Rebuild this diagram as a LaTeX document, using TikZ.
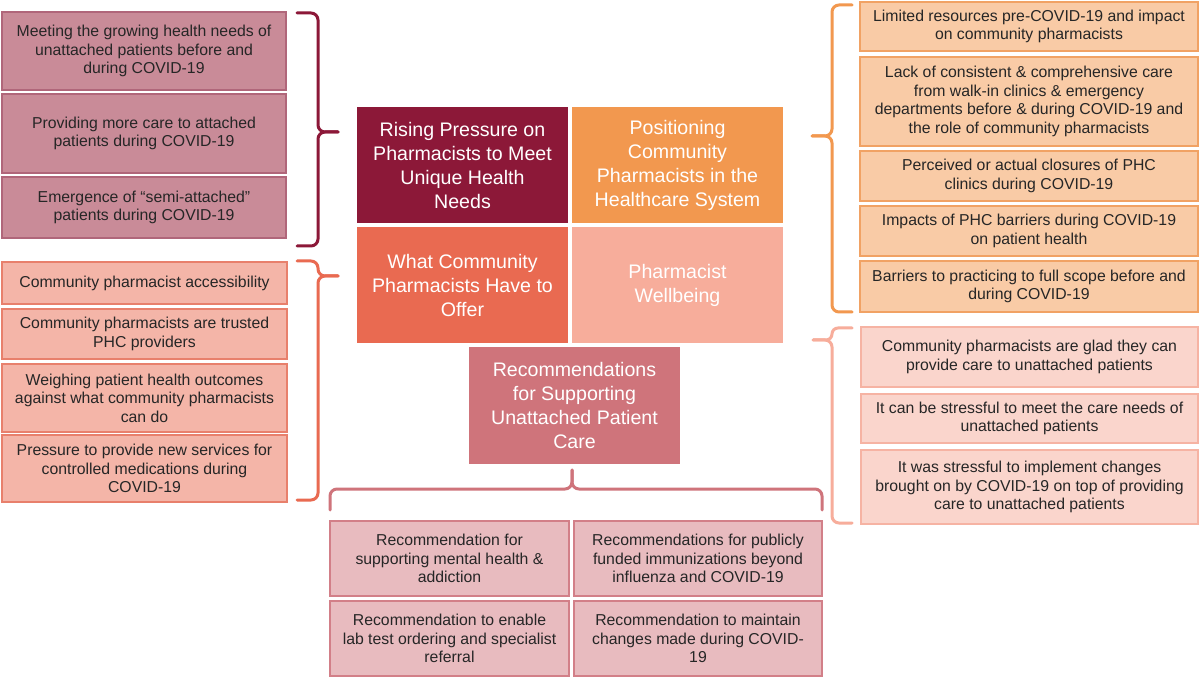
\documentclass[tikz,border=0pt]{standalone}
\usepackage{fontspec}
\setmainfont{Liberation Sans}
\definecolor{wine}{HTML}{8C1838}
\definecolor{orng}{HTML}{F2984F}
\definecolor{coral}{HTML}{E96A51}
\definecolor{salmon}{HTML}{F7AD9B}
\definecolor{rose}{HTML}{CF747B}
\definecolor{tlfill}{HTML}{C98B98}
\definecolor{tldraw}{HTML}{B0667A}
\definecolor{lbfill}{HTML}{F4B5A8}
\definecolor{lbdraw}{HTML}{E8806C}
\definecolor{bfill}{HTML}{E8BBBF}
\definecolor{bdraw}{HTML}{D27F88}
\definecolor{rtfill}{HTML}{F9CBA6}
\definecolor{rtdraw}{HTML}{F1A264}
\definecolor{rbfill}{HTML}{FAD5CC}
\definecolor{rbdraw}{HTML}{F6B3A3}
\definecolor{txt}{HTML}{262626}
\tikzset{
  sidebox/.style={draw, line width=0.6pt, inner sep=0pt, outer sep=0pt, align=center,
    text=txt, font=\fontsize{7.9}{9.3}\selectfont},
  tlbox/.style={sidebox, fill=tlfill, draw=tldraw, minimum width=142pt},
  lbbox/.style={sidebox, fill=lbfill, draw=lbdraw, minimum width=142.5pt},
  botbox/.style={sidebox, fill=bfill, draw=bdraw, minimum height=37.5pt},
  rtbox/.style={sidebox, fill=rtfill, draw=rtdraw, minimum width=169pt},
  rbbox/.style={sidebox, fill=rbfill, draw=rbdraw, minimum width=168.5pt},
  quad/.style={inner sep=0pt, outer sep=0pt, align=center, text=white,
    minimum width=105.5pt, minimum height=58pt, font=\fontsize{9.8}{12}\selectfont},
  brace/.style={line width=1.5pt, rounded corners=3.5pt, line cap=round},
}
\begin{document}
\begin{tikzpicture}[x=0.5pt,y=-0.5pt]
\useasboundingbox (0,0) rectangle (1200,679);
\fill[white] (0,0) rectangle (1200,679);

% top-left group
\node[tlbox, minimum height=39pt] (tl1) at (144,51) {Meeting the growing health needs of\\unattached patients before and\\during COVID-19};
\node[tlbox, minimum height=39.5pt] (tl2) at (144,133.5) {Providing more care to attached\\patients during COVID-19};
\node[tlbox, minimum height=30.5pt] (tl3) at (144,207.5) {Emergence of “semi-attached”\\patients during COVID-19};

% left-bottom group
\node[lbbox, minimum height=21pt] (lb1) at (144.5,283) {Community pharmacist accessibility};
\node[lbbox, minimum height=25pt] (lb2) at (144.5,334) {Community pharmacists are trusted\\PHC providers};
\node[lbbox, minimum height=34pt] (lb3) at (144.5,398) {Weighing patient health outcomes\\against what community pharmacists\\can do};
\node[lbbox, minimum height=33.5pt] (lb4) at (144.5,468.5) {Pressure to provide new services for\\controlled medications during\\COVID-19};

% quadrants
\node[quad, fill=wine] (q1) at (462.5,165) {Rising Pressure on\\Pharmacists to Meet\\Unique Health\\Needs};
\node[quad, fill=orng] (q2) at (677.5,165) {Positioning\\Community\\Pharmacists in the\\Healthcare System};
\node[quad, fill=coral] (q3) at (462.5,285) {What Community\\Pharmacists Have to\\Offer};
\node[quad, fill=salmon] (q4) at (677.5,285) {Pharmacist\\Wellbeing};
\node[quad, fill=rose, minimum height=58.5pt] (rec) at (574.5,405.5) {Recommendations\\for Supporting\\Unattached Patient\\Care};

% bottom group
\node[botbox, minimum width=119.5pt] (b1) at (449.5,558.5) {Recommendation for\\supporting mental health \&\\addiction};
\node[botbox, minimum width=124pt] (b2) at (698,558.5) {Recommendations for publicly\\funded immunizations beyond\\influenza and COVID-19};
\node[botbox, minimum width=119.5pt] (b3) at (449.5,638.5) {Recommendation to enable\\lab test ordering and specialist\\referral};
\node[botbox, minimum width=124pt] (b4) at (698,638.5) {Recommendation to maintain\\changes made during COVID-\\19};

% right-top group
\node[rtbox, minimum height=24.5pt] (rt1) at (1029,26.5) {Limited resources pre-COVID-19 and impact\\on community pharmacists};
\node[rtbox, minimum height=44.5pt] (rt2) at (1029,101.5) {Lack of consistent \& comprehensive care\\from walk-in clinics \& emergency\\departments before \& during COVID-19 and\\the role of community pharmacists};
\node[rtbox, minimum height=25pt] (rt3) at (1029,176) {Perceived or actual closures of PHC\\clinics during COVID-19};
\node[rtbox, minimum height=25pt] (rt4) at (1029,231) {Impacts of PHC barriers during COVID-19\\on patient health};
\node[rtbox, minimum height=25.5pt] (rt5) at (1029,286.5) {Barriers to practicing to full scope before and\\during COVID-19};

% right-bottom group
\node[rbbox, minimum height=30pt] (rb1) at (1029.5,357) {Community pharmacists are glad they can\\provide care to unattached patients};
\node[rbbox, minimum height=24.5pt] (rb2) at (1029.5,418.5) {It can be stressful to meet the care needs of\\unattached patients};
\node[rbbox, minimum height=37pt] (rb3) at (1029.5,487) {It was stressful to implement changes\\brought on by COVID-19 on top of providing\\care to unattached patients};

% braces
% top-left
\coordinate (tlA) at (297,13); \coordinate (tlB) at (318,13);
\coordinate (tlC) at (318,132); \coordinate (tlT) at (338,132);
\coordinate (tlD) at (318,246); \coordinate (tlE) at (297,246);
\draw[brace, wine] (tlA) -- (tlB) -- (tlC) -- (tlT);
\draw[brace, wine] (tlE) -- (tlD) -- (tlC) -- (tlT);
% left-bottom
\coordinate (lbA) at (297,261); \coordinate (lbB) at (318,261);
\coordinate (lbC) at (318,276); \coordinate (lbT) at (338,276);
\coordinate (lbD) at (318,500); \coordinate (lbE) at (297,500);
\draw[brace, coral] (lbA) -- (lbB) -- (lbC) -- (lbT);
\draw[brace, coral] (lbE) -- (lbD) -- (lbC) -- (lbT);
% right-top
\coordinate (rtA) at (852,5); \coordinate (rtB) at (832,5);
\coordinate (rtC) at (832,136); \coordinate (rtT) at (812,136);
\coordinate (rtD) at (832,312); \coordinate (rtE) at (852,312);
\draw[brace, orng] (rtA) -- (rtB) -- (rtC) -- (rtT);
\draw[brace, orng] (rtE) -- (rtD) -- (rtC) -- (rtT);
% right-bottom
\coordinate (rbA) at (852,328); \coordinate (rbB) at (832,328);
\coordinate (rbC) at (832,340); \coordinate (rbT) at (813,340);
\coordinate (rbD) at (832,523); \coordinate (rbE) at (852,523);
\draw[brace, salmon, rounded corners=3pt] (rbA) -- (rbB) -- (rbC) -- (rbT);
\draw[brace, salmon] (rbE) -- (rbD) -- (rbC) -- (rbT);
% bottom
\coordinate (bA) at (330,510); \coordinate (bB) at (330,489);
\coordinate (bC) at (572,489); \coordinate (bT) at (572,470);
\coordinate (bD) at (822,489); \coordinate (bE) at (822,510);
\draw[brace, rose] (bA) -- (bB) -- (bC) -- (bT);
\draw[brace, rose] (bE) -- (bD) -- (bC) -- (bT);
\end{tikzpicture}
\end{document}
